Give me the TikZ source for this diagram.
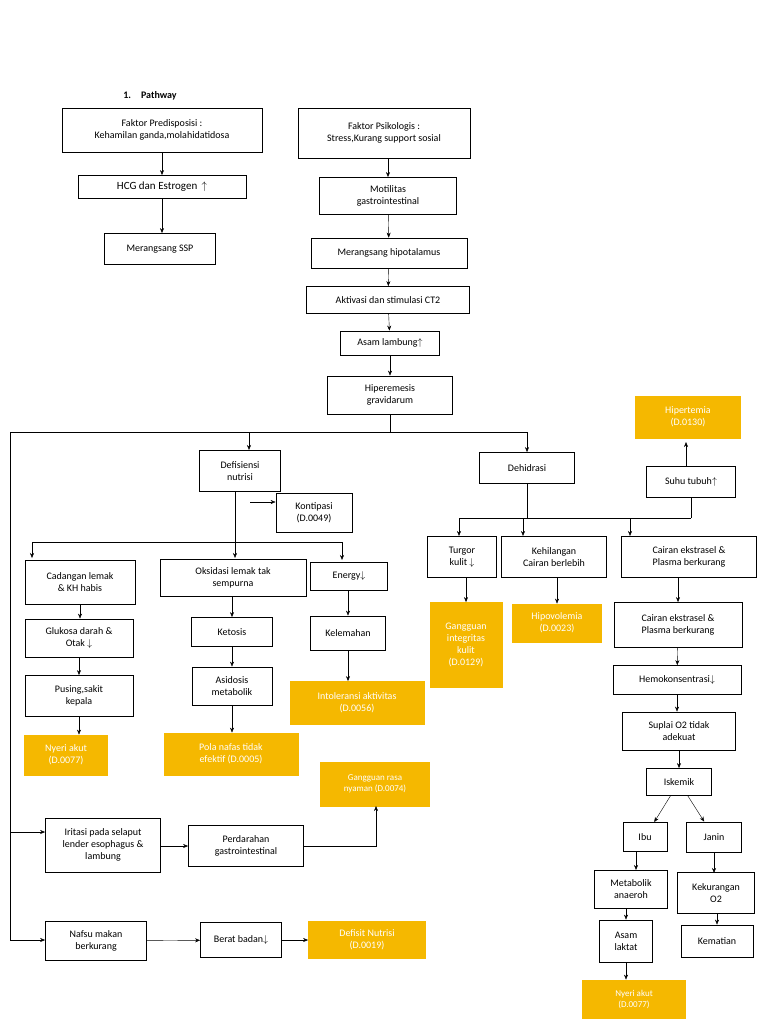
\documentclass[tikz,border=0pt]{standalone}
\usepackage{fontspec}
\setmainfont{Carlito}
\usetikzlibrary{arrows.meta}
\definecolor{diagorange}{HTML}{F5B800}
\tikzset{
  box/.style={draw, thick, align=center, inner sep=1pt, font=\fontsize{10}{12}\selectfont},
  dx/.style={box, draw=diagorange, fill=diagorange, text=white},
  arr/.style={-{Stealth[length=5pt,width=4pt]}, thin},
  ln/.style={thin}
}
\begin{document}
\begin{tikzpicture}[x=1pt, y=-1pt]
	\useasboundingbox[fill=white] (0,0) rectangle (768,1024);
	\node[font=\fontsize{10}{12}\selectfont\bfseries] (title) at (150,96) {1.\quad Pathway};

	% left top column
	\node[box, minimum width=200pt, minimum height=44pt] (fp) at (162,130) {Faktor Predisposisi :\\Kehamilan ganda,molahidatidosa};
	\node[box, minimum width=168pt, minimum height=23pt, font=\fontsize{11}{13}\selectfont] (hcg) at (162,187) {HCG dan Estrogen\, $\uparrow$};
	\node[box, minimum width=111pt, minimum height=31pt] (ssp) at (160,249) {Merangsang SSP};
	\draw[arr] (fp) -- (fp |- hcg.north);
	\draw[arr] (hcg) -- (hcg |- ssp.north);

	% middle top column
	\node[box, minimum width=172pt, minimum height=50pt] (fpsi) at (384,133) {Faktor Psikologis :\\Stress,Kurang support sosial};
	\node[box, minimum width=137pt, minimum height=37pt] (mot) at (388,196) {Motilitas\\gastrointestinal};
	\node[box, minimum width=156pt, minimum height=30pt] (hipo) at (389,253) {Merangsang hipotalamus};
	\node[box, minimum width=163pt, minimum height=27pt] (akt) at (388,300) {Aktivasi dan stimulasi CT2};
	\node[box, minimum width=99pt, minimum height=24pt] (asam) at (390,343) {Asam lambung$\uparrow$};
	\node[box, minimum width=125pt, minimum height=38pt] (hip) at (390,395) {Hiperemesis\\gravidarum};
	\draw[arr] (fpsi.south -| mot) -- (mot);
	\draw[arr] (mot) -- (hipo);
	\draw[arr] (hipo) -- (akt);
	\draw[arr] (akt) -- (asam);
	\draw[arr] (asam) -- (hip);

	% branch of hiperemesis
	\node[box, minimum width=81pt, minimum height=41pt] (def) at (240,471) {Defisiensi\\nutrisi};
	\node[box, minimum width=76pt, minimum height=39pt] (kon) at (314,513) {Kontipasi\\(D.0049)};
	\node[box, minimum width=95pt, minimum height=31pt] (deh) at (527,468) {Dehidrasi};
	\coordinate (hj) at (390,432);
	\coordinate (hl) at (10,432);
	\draw[ln] (hip) -- (hj);
	\draw[ln] (hl) -- (527,432);
	\draw[arr] (249,432) -- (249,450);
	\draw[arr] (527,432) -- (deh.north);
	\draw[arr] (250,502) -- (kon.west |- 250,502);

	% nutrition columns
	\node[box, minimum width=110pt, minimum height=44pt] (cad) at (80,582) {Cadangan lemak\\\& KH habis};
	\node[box, minimum width=108pt, minimum height=38pt] (glu) at (79,638) {Glukosa darah \&\\Otak $\downarrow$};
	\node[box, minimum width=108pt, minimum height=41pt] (pus) at (79,696) {Pusing,sakit\\kepala};
	\node[dx, minimum width=83pt, minimum height=40pt] (ny1) at (66,755) {Nyeri akut\\(D.0077)};
	\node[box, minimum width=146pt, minimum height=37pt] (oks) at (233,578) {Oksidasi lemak tak\\sempurna};
	\node[box, minimum width=81pt, minimum height=29pt] (ket) at (232,632) {Ketosis};
	\node[box, minimum width=80pt, minimum height=38pt] (asi) at (232,686) {Asidosis\\metabolik};
	\node[dx, minimum width=134pt, minimum height=42pt] (pola) at (231,754) {Pola nafas tidak\\efektif (D.0005)};
	\node[box, minimum width=77pt, minimum height=28pt] (en) at (349,576) {Energy$\downarrow$};
	\node[box, minimum width=75pt, minimum height=34pt] (kel) at (348,633) {Kelemahan};
	\node[dx, minimum width=134pt, minimum height=43pt] (into) at (357,703) {Intoleransi aktivitas\\(D.0056)};
	\coordinate (dj) at (235,542);
	\draw[ln] (235,492) -- (dj);
	\draw[ln] (32,542) -- (342,542);
	\draw[arr] (32,542) -- (32,558);
	\draw[arr] (dj) -- (235,558);
	\draw[arr] (342,542) -- (342,560);
	\draw[arr] (cad) -- (cad |- glu.north);
	\draw[arr] (glu) -- (glu |- pus.north);
	\draw[arr] (pus) -- (pus |- ny1.north);
	\draw[arr] (oks.south -| ket) -- (ket);
	\draw[arr] (ket) -- (asi);
	\draw[arr] (asi) -- (asi |- pola.north);
	\draw[arr] (en.south -| kel) -- (kel);
	\draw[arr] (kel) -- (kel |- into.north);

	% lower left
	\node[dx, minimum width=109pt, minimum height=44pt, font=\fontsize{9}{11}\selectfont] (ggr) at (375,784) {Gangguan rasa\\nyaman (D.0074)};
	\node[box, minimum width=115pt, minimum height=54pt] (iri) at (103,845) {Iritasi pada selaput\\lender esophagus \&\\lambung};
	\node[box, minimum width=115pt, minimum height=41pt] (per) at (246,846) {Perdarahan\\gastrointestinal};
	\node[box, minimum width=101pt, minimum height=39pt] (naf) at (96,941) {Nafsu makan\\berkurang};
	\node[box, minimum width=81pt, minimum height=35pt] (ber) at (241,940) {Berat badan$\downarrow$};
	\node[dx, minimum width=117pt, minimum height=37pt] (dfn) at (367,940) {Defisit Nutrisi\\(D.0019)};
	\draw[ln] (hl) -- (10,940);
	\draw[arr] (10,832) -- (iri.west |- 10,832);
	\draw[arr] (10,940) -- (naf.west |- 10,940);
	\draw[arr] (iri.east |- per) -- (per);
	\draw[arr] (per.east) -- (376,846) -- (376,806);
	\draw[arr] (naf) -- (ber);
	\draw[arr] (ber) -- (dfn);

	% right side
	\node[dx, minimum width=105pt, minimum height=42pt] (hipt) at (688,417) {Hipertemia\\(D.0130)};
	\node[box, minimum width=89pt, minimum height=31pt] (suhu) at (691,482) {Suhu tubuh$\uparrow$};
	\node[box, minimum width=69pt, minimum height=41pt] (tur) at (462,557) {Turgor\\kulit $\downarrow$};
	\node[box, minimum width=105pt, minimum height=41pt] (keh) at (554,557) {Kehilangan\\Cairan berlebih};
	\node[box, minimum width=135pt, minimum height=41pt] (cai1) at (689,557) {Cairan ekstrasel \&\\Plasma berkurang};
	\node[dx, minimum width=72pt, minimum height=85pt] (ggi) at (466,645) {Gangguan\\integritas\\kulit\\(D.0129)};
	\node[dx, minimum width=89pt, minimum height=38pt] (hpv) at (557,623) {Hipovolemia\\(D.0023)};
	\node[box, minimum width=128pt, minimum height=45pt] (cai2) at (678,625) {Cairan ekstrasel \&\\Plasma berkurang};
	\node[box, minimum width=128pt, minimum height=29pt] (hem) at (677,680) {Hemokonsentrasi$\downarrow$};
	\node[box, minimum width=113pt, minimum height=38pt] (sup) at (679,731) {Suplai O2 tidak\\adekuat};
	\node[box, minimum width=65pt, minimum height=27pt] (isk) at (679,782) {Iskemik};
	\node[box, minimum width=44pt, minimum height=29pt] (ibu) at (645,837) {Ibu};
	\node[box, minimum width=55pt, minimum height=30pt] (jan) at (714,837) {Janin};
	\node[box, minimum width=73pt, minimum height=38pt] (met) at (631,889) {Metabolik\\anaeroh};
	\node[box, minimum width=77pt, minimum height=41pt] (kek) at (716,893) {Kekurangan\\O2};
	\node[box, minimum width=53pt, minimum height=42pt] (asl) at (626,941) {Asam\\laktat};
	\node[box, minimum width=72pt, minimum height=32pt] (kem) at (717,941) {Kematian};
	\node[dx, minimum width=103pt, minimum height=38pt, font=\fontsize{9}{11}\selectfont] (ny2) at (634,999) {Nyeri akut\\(D.0077)};
	\coordinate (sj) at (691,518);
	\draw[arr] (suhu.north -| 686,0) -- (686,442);
	\draw[ln] (suhu) -- (sj);
	\draw[ln] (459,518) -- (sj);
	\draw[ln] (deh.south) -- (527,518);
	\draw[arr] (459,518) -- (459,536);
	\draw[arr] (523,518) -- (523,536);
	\draw[arr] (630,518) -- (630,536);
	\draw[arr] (tur.south -| ggi) -- (ggi);
	\draw[arr] (keh.south -| hpv) -- (hpv);
	\draw[arr] (cai1.south -| cai2) -- (cai2);
	\draw[arr] (cai2) -- (hem);
	\draw[arr] (hem) -- (hem |- sup.north);
	\draw[arr] (sup.south -| isk) -- (isk);
	\draw[arr] (isk) -- (ibu);
	\draw[arr] (isk) -- (jan);
	\draw[arr] (ibu.south -| 636,0) -- (636,870);
	\draw[arr] (jan.south -| 714,0) -- (714,873);
	\draw[arr] (met.south -| asl) -- (asl);
	\draw[arr] (kek.south -| kem) -- (kem);
	\draw[arr] (asl) -- (asl |- ny2.north);
\end{tikzpicture}
\end{document}
